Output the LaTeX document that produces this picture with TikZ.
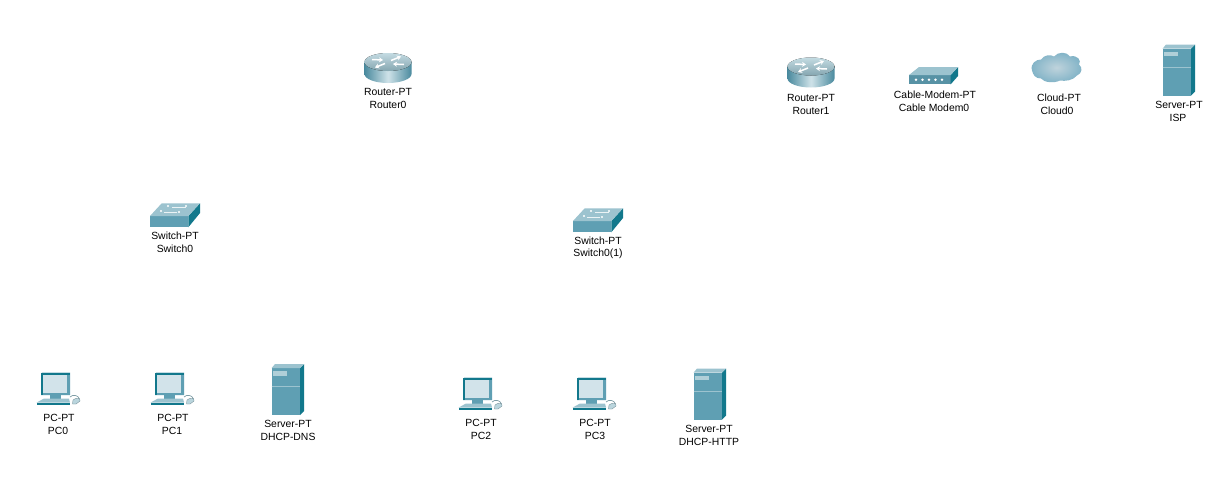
\documentclass[tikz,border=0pt]{standalone}
\usepackage{fontspec}
\setmainfont{Liberation Sans}
\usetikzlibrary{arrows.meta}
\definecolor{frontc}{HTML}{5F9FB3}
\definecolor{topc}{HTML}{9CC3CF}
\definecolor{sidec}{HTML}{12788C}
\definecolor{darkc}{HTML}{4A8A9E}
\definecolor{screenc}{HTML}{D2E3EA}
\definecolor{cloudc}{HTML}{7FB2C6}
\definecolor{cloudl}{HTML}{BFD3DC}
\tikzset{
  lbl/.style={font=\fontsize{10.4}{13}\selectfont,align=center,inner sep=0pt,text=black},
  routerpic/.pic={
    \path[left color=darkc,right color=darkc,middle color=white!70!frontc]
      (-23.5,-6) -- (-23.5,6) arc[start angle=180,end angle=0,x radius=23.5,y radius=9] -- (23.5,-6) -- cycle;
    \fill[top color=topc!60!white,bottom color=topc!85!black] (0,-6) ellipse[x radius=23.5,y radius=9];
    \foreach \r in {0,180}{
      \begin{scope}[rotate around={\r:(0,-6)}]
        \draw[white,line width=1.5pt,-{Stealth[length=4pt,width=5pt]}] (-16,-8.5) -- (-5,-8);
        \draw[white,line width=1.5pt,-{Stealth[length=4pt,width=5pt]}] (3,-7.5) -- (13,-11.5);
      \end{scope}
    }
  },
  switchpic/.pic={
    \fill[frontc] (-25,1) -- (13.3,1) -- (13.3,12.3) -- (-25,12.3) -- cycle;
    \fill[sidec] (13.3,1) -- (25,-11.7) -- (25,-2) -- (13.3,12.3) -- cycle;
    \fill[topc] (-25,1) -- (-13.3,-11.7) -- (25,-11.7) -- (13.3,1) -- cycle;
    \draw[white!80!topc,line width=.8pt] (-11,-3) -- (2,-3) (-3,-8) -- (11,-8);
    \fill[white] (-14,-4) circle(1.2) (-7,-9) circle(1.2) (11,-9) circle(1.2) (4,-3) circle(1.2);
  },
  modempic/.pic={
    \fill[frontc!92!black] (-24.5,-.5) -- (17.2,-.5) -- (17.2,8.8) -- (-24.5,8.8) -- cycle;
    \fill[sidec] (17.2,-.5) -- (24.5,-8.5) -- (24.5,.5) -- (17.2,8.8) -- cycle;
    \fill[topc] (-24.5,-.5) -- (-14.5,-8.5) -- (24.5,-8.5) -- (17.2,-.5) -- cycle;
    \foreach \x in {-17.5,-11,-4.5,2,8.5} \fill[white] (\x,4.2) circle(1.4);
  },
  cloudpic/.pic={
    \path[inner color=cloudl,outer color=cloudc]
      (-25,3) .. controls (-27,-4) and (-21,-8) .. (-16,-8)
      .. controls (-13,-13) and (-6,-13) .. (-3,-11)
      .. controls (1,-16) and (10,-16) .. (13,-11)
      .. controls (20,-13) and (25,-7) .. (22,-3)
      .. controls (26,0) and (25,6) .. (20,8)
      .. controls (16,13) and (8,14) .. (3,13)
      .. controls (-3,16) and (-13,15) .. (-16,11)
      .. controls (-22,11) and (-24,7) .. (-25,3) -- cycle;
  },
  serverpic/.pic={
    \fill[frontc] (-16.3,-21.5) rectangle (12,25.5);
    \fill[sidec] (12,-21.5) -- (16,-25.5) -- (16,21.5) -- (12,25.5) -- cycle;
    \fill[topc] (-16.3,-21.5) -- (-13,-25.5) -- (16,-25.5) -- (12,-21.5) -- cycle;
    \fill[topc!80!white] (-14.7,-18.5) rectangle (-1.3,-13.8);
    \draw[topc,line width=.6pt] (-16.3,-2.8) -- (12,-2.8);
  },
  pcpic/.pic={
    \fill[frontc] (-16,-17.3) -- (12,-17.3) -- (12,5) -- (-17,5) -- cycle;
    \fill[sidec] (-17,-17.3) -- (-14.7,-17.3) -- (-14.7,5) -- (-17,5) -- cycle;
    \fill[sidec] (-17,-17.3) rectangle (12,-15);
    \fill[screenc] (-14.7,-15) rectangle (8.7,3);
    \fill[frontc] (-8,5) rectangle (3,9);
    \fill[topc] (-14,8.5) -- (11,8.5) -- (12,12.5) -- (-21.3,12.5) -- cycle;
    \fill[sidec] (-21.3,12.5) rectangle (12,14.5);
    \draw[topc!80!black,line width=.7pt] (12,7) .. controls (15,4) and (20,5) .. (21.5,9);
    \fill[topc!70!white,draw=topc!70!black,line width=.3pt] (15,10) .. controls (18,7) and (23,8) .. (22,11) -- (18,14) -- (14.5,14) -- cycle;
  }
}
\begin{document}
\begin{tikzpicture}[x=1pt,y=-1pt]
\useasboundingbox (0,0) rectangle (1225,498);
\fill[white] (0,0) rectangle (1225,498);
\pic at (388,68) {routerpic};
\node[lbl] (l1) at (388,91.5) {Router-PT};
\node[lbl] (l2) at (388,105) {Router0};
\pic at (811,72.5) {routerpic};
\node[lbl] (l3) at (811,97.5) {Router-PT};
\node[lbl] (l4) at (811,110.5) {Router1};
\pic at (933.5,75.5) {modempic};
\node[lbl] (l5) at (935,94.5) {Cable-Modem-PT};
\node[lbl] (l6) at (934,107.5) {Cable Modem0};
\pic at (1057,67.5) {cloudpic};
\node[lbl] (l7) at (1059,97.5) {Cloud-PT};
\node[lbl] (l8) at (1057,110.5) {Cloud0};
\pic at (1179,70) {serverpic};
\node[lbl] (l9) at (1179,104.5) {Server-PT};
\node[lbl] (l10) at (1178,117.5) {ISP};
\pic at (175,215) {switchpic};
\node[lbl] (l11) at (175,235.5) {Switch-PT};
\node[lbl] (l12) at (175,248.5) {Switch0};
\pic at (598,220) {switchpic};
\node[lbl] (l13) at (598,240.5) {Switch-PT};
\node[lbl] (l14) at (598,253.5) {Switch0(1)};
\pic at (58,390) {pcpic};
\node[lbl] (l15) at (59,417.5) {PC-PT};
\node[lbl] (l16) at (58,430.5) {PC0};
\pic at (172,390) {pcpic};
\node[lbl] (l17) at (173,417.5) {PC-PT};
\node[lbl] (l18) at (172,430.5) {PC1};
\pic at (288,389.5) {serverpic};
\node[lbl] (l19) at (288,423.5) {Server-PT};
\node[lbl] (l20) at (288,436.5) {DHCP-DNS};
\pic at (480,395) {pcpic};
\node[lbl] (l21) at (481,422.5) {PC-PT};
\node[lbl] (l22) at (481,435.5) {PC2};
\pic at (594,395) {pcpic};
\node[lbl] (l23) at (595,422.5) {PC-PT};
\node[lbl] (l24) at (595,435.5) {PC3};
\pic at (710,394) {serverpic};
\node[lbl] (l25) at (709,428.5) {Server-PT};
\node[lbl] (l26) at (709,441.5) {DHCP-HTTP};
\end{tikzpicture}
\end{document}
